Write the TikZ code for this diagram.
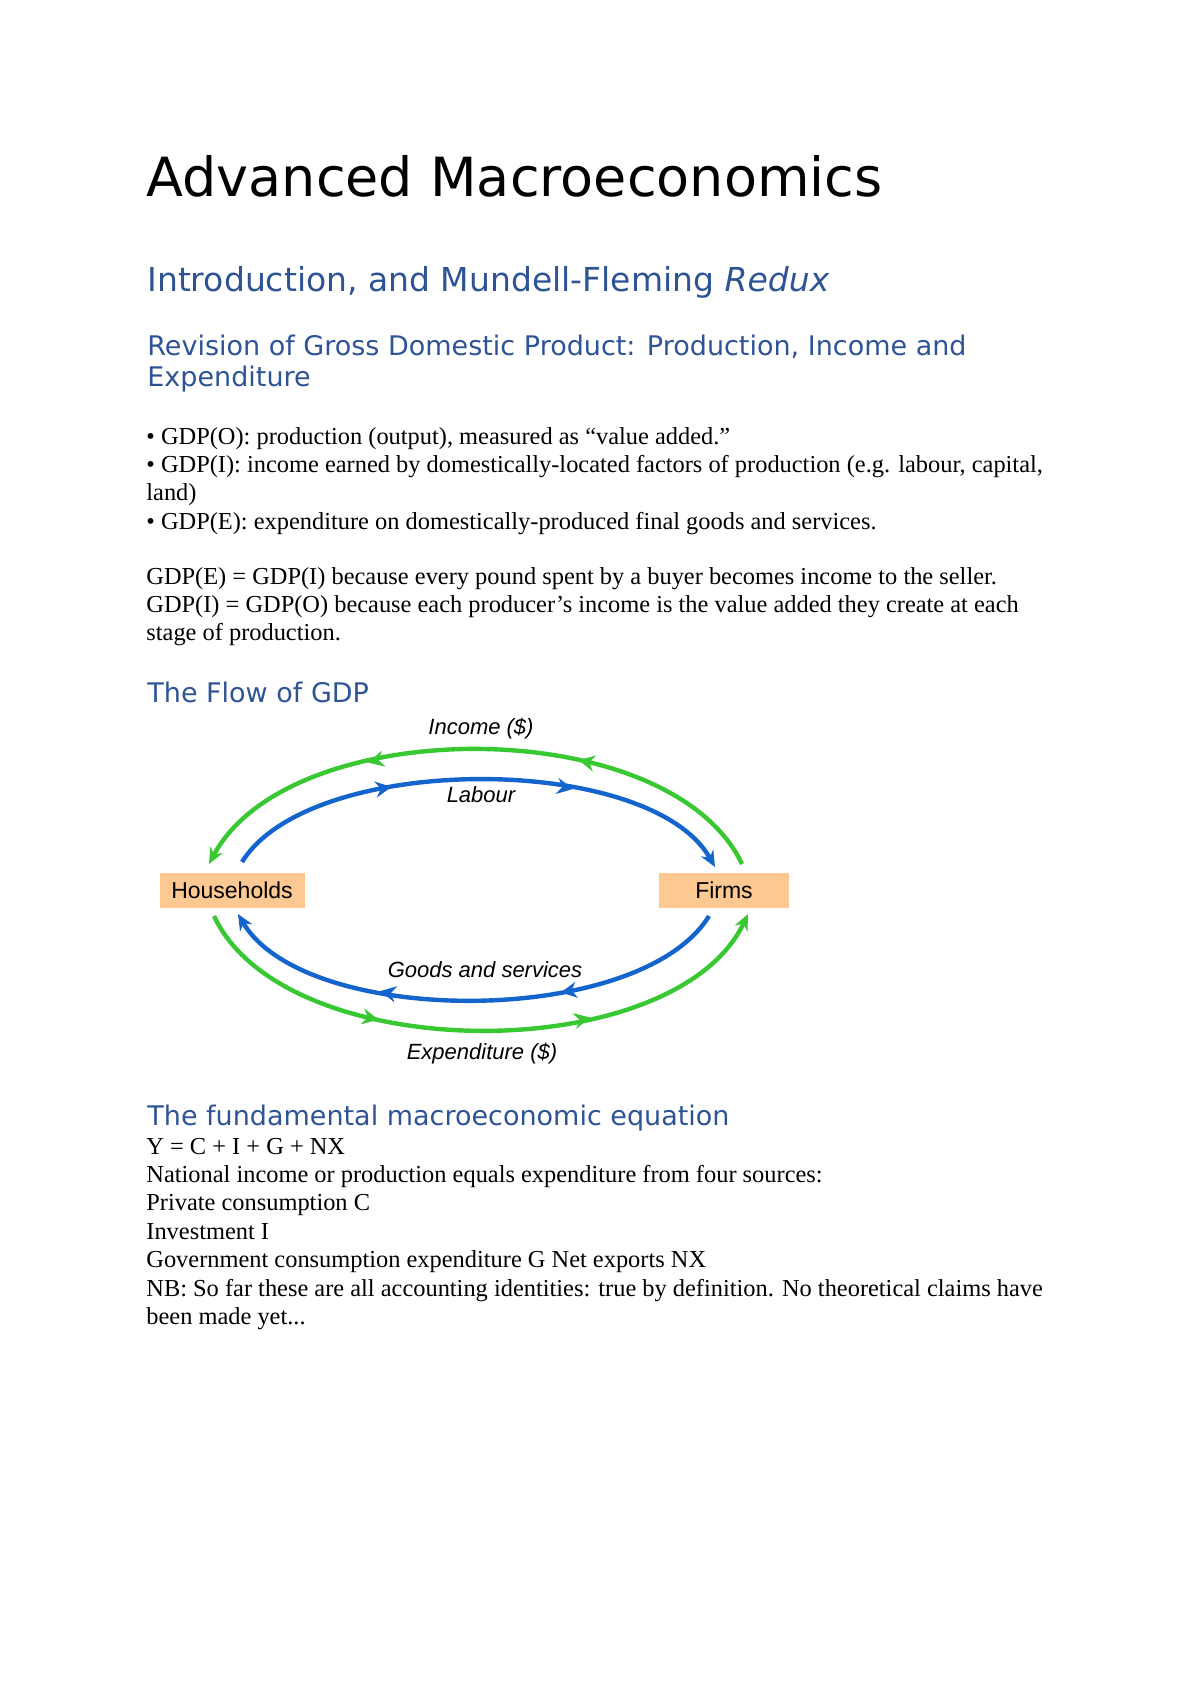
\documentclass[tikz,border=0pt]{standalone}
\usepackage{fontspec}
\setmainfont{Liberation Serif}
\newfontfamily\hd{DejaVu Sans}
\newfontfamily\ar{Liberation Sans}
\usetikzlibrary{decorations.markings,arrows.meta}
\definecolor{hblue}{RGB}{46,84,150}
\definecolor{fgreen}{RGB}{55,200,50}
\definecolor{fblue}{RGB}{20,100,205}
\definecolor{boxc}{RGB}{253,200,145}
\tikzset{
 tl/.style={anchor=base west,inner sep=0pt,font=\fontsize{12.2}{14}\selectfont},
 flow/.style={line width=2.2pt,-{Stealth[length=8pt,width=7pt]},
   postaction={decorate,decoration={markings,
   mark=at position 0.33 with {\arrow{Stealth[length=8pt,width=8pt]}},
   mark=at position 0.68 with {\arrow{Stealth[length=8pt,width=8pt]}}}}},
 actor/.style={fill=boxc,inner sep=0pt,minimum height=17.5pt,font=\ar\fontsize{11.5}{13}\selectfont},
 lab/.style={font=\ar\itshape\fontsize{11}{13}\selectfont,inner sep=0pt}
}
\begin{document}
\begin{tikzpicture}[x=0.5pt,y=-0.5pt]
\useasboundingbox (0,0) rectangle (1200,1698);
\node[tl,font=\hd\fontsize{27}{30}\selectfont] (t) at (146,196) {Advanced Macroeconomics};
\node[tl,font=\hd\fontsize{16.5}{20}\selectfont,text=hblue] (h1) at (147,291) {Introduction, and Mundell-Fleming \textit{Redux}};
\node[tl,font=\hd\fontsize{13.5}{16}\selectfont,text=hblue] (h2a) at (147,355) {Revision of Gross Domestic Product: Production, Income and};
\node[tl,font=\hd\fontsize{13.5}{16}\selectfont,text=hblue] (h2b) at (147,386) {Expenditure};
\node[tl] (b1) at (146,444) {\textbullet\ GDP(O): production (output), measured as “value added.”};
\node[tl] (b2) at (146,472) {\textbullet\ GDP(I): income earned by domestically-located factors of production (e.g. labour, capital,};
\node[tl] (b2b) at (146,500) {land)};
\node[tl] (b3) at (146,529) {\textbullet\ GDP(E): expenditure on domestically-produced final goods and services.};
\node[tl] (p1) at (146,584) {GDP(E) = GDP(I) because every pound spent by a buyer becomes income to the seller.};
\node[tl] (p2) at (146,612) {GDP(I) = GDP(O) because each producer’s income is the value added they create at each};
\node[tl] (p3) at (146,640) {stage of production.};
\node[tl,font=\hd\fontsize{13.5}{16}\selectfont,text=hblue] (h3) at (147,702) {The Flow of GDP};
% diagram
\node[actor,minimum width=72.5pt] (hh) at (232,890) {Households};
\node[actor,minimum width=65pt] (ff) at (724,890) {Firms};
\coordinate (gt1) at (742,864); \coordinate (gt2) at (209,864);
\coordinate (bt1) at (242,862); \coordinate (bt2) at (715,867);
\coordinate (bb1) at (709,916); \coordinate (bb2) at (238,914);
\coordinate (gb1) at (214,916); \coordinate (gb2) at (748,914);
\draw[flow,fgreen] (gt1) .. controls (670,712) and (290,712) .. (gt2);
\draw[flow,fblue] (bt1) .. controls (310,752) and (650,752) .. (bt2);
\draw[flow,fblue] (bb1) .. controls (640,1028) and (305,1028) .. (bb2);
\draw[flow,fgreen] (gb1) .. controls (285,1068) and (675,1068) .. (gb2);
\node[lab] (inc) at (481,729) {Income (\$)};
\node[lab] (labr) at (481,795) {Labour};
\node[lab] (gs) at (485,970) {Goods and services};
\node[lab] (exp) at (482,1054) {Expenditure (\$)};
\node[tl,font=\hd\fontsize{13.5}{16}\selectfont,text=hblue] (h4) at (147,1125) {The fundamental macroeconomic equation};
\node[tl] (e1) at (146,1154) {Y = C + I + G + NX};
\node[tl] (e2) at (146,1182) {National income or production equals expenditure from four sources:};
\node[tl] (e3) at (146,1210) {Private consumption C};
\node[tl] (e4) at (146,1239) {Investment I};
\node[tl] (e5) at (146,1267) {Government consumption expenditure G Net exports NX};
\node[tl] (e6) at (146,1296) {NB: So far these are all accounting identities: true by definition. No theoretical claims have};
\node[tl] (e7) at (146,1324) {been made yet...};
\end{tikzpicture}
\end{document}
